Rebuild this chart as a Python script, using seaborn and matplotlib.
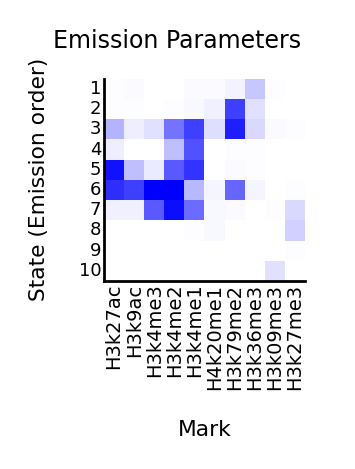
import numpy as np
import pandas as pd
import seaborn as sns
import matplotlib
matplotlib.use("Agg")
import matplotlib.pyplot as plt
from matplotlib.colors import LinearSegmentedColormap

marks = ["H3k27ac", "H3k9ac", "H3k4me3", "H3k4me2", "H3k4me1",
         "H4k20me1", "H3k79me2", "H3k36me3", "H3k09me3", "H3k27me3"]
states = [str(i) for i in range(1, 11)]

row1 = [0.01, 0.02, 0.00, 0.00, 0.02, 0.02, 0.05, 0.22, 0.01, 0.00]
row2 = [0.01, 0.01, 0.00, 0.01, 0.03, 0.06, 0.75, 0.12, 0.00, 0.00]
row3 = [0.30, 0.07, 0.12, 0.55, 0.75, 0.13, 0.88, 0.15, 0.02, 0.01]
row4 = [0.07, 0.00, 0.00, 0.25, 0.68, 0.00, 0.01, 0.01, 0.00, 0.00]
row5 = [0.93, 0.25, 0.08, 0.65, 0.80, 0.00, 0.02, 0.01, 0.00, 0.00]
row6 = [0.82, 0.75, 1.00, 1.00, 0.28, 0.04, 0.60, 0.04, 0.00, 0.01]
row7 = [0.06, 0.06, 0.65, 0.95, 0.58, 0.03, 0.02, 0.00, 0.01, 0.15]
row8 = [0.00, 0.00, 0.00, 0.00, 0.01, 0.03, 0.00, 0.00, 0.00, 0.18]
row9 = [0.00, 0.00, 0.00, 0.00, 0.00, 0.00, 0.00, 0.00, 0.00, 0.01]
row10 = [0.00, 0.00, 0.00, 0.00, 0.00, 0.00, 0.00, 0.00, 0.12, 0.00]

df = pd.DataFrame([row1, row2, row3, row4, row5, row6, row7, row8, row9, row10],
                  index=states, columns=marks)

cmap = LinearSegmentedColormap.from_list("wb", ["#ffffff", "#0000ff"])

fig = plt.figure(figsize=(3.55, 4.69), dpi=100)
ax = fig.add_axes([0.293, 0.401, 0.566, 0.431])
sns.heatmap(df, ax=ax, cmap=cmap, vmin=0, vmax=1, cbar=False, square=False)
fig.text(0.5, 1 - 48 / 469, "Emission Parameters", fontsize=17,
         ha="center", va="baseline")
ax.set_xlabel("Mark", fontsize=15.7, labelpad=22)
ax.set_ylabel("State (Emission order)", fontsize=15.7, labelpad=21)
ax.tick_params(axis="both", length=0, pad=2)
ax.set_xticklabels(marks, rotation=90, fontsize=14)
ax.set_yticklabels(states, rotation=0, fontsize=13)
for side in ["left", "bottom"]:
    ax.spines[side].set_visible(True)
    ax.spines[side].set_color("black")
    ax.spines[side].set_linewidth(2)
fig.savefig("out.png", dpi=100)
